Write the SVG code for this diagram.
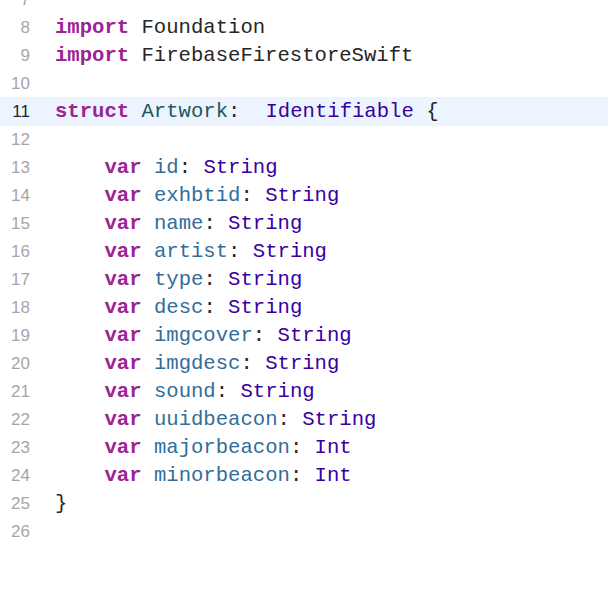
<svg xmlns="http://www.w3.org/2000/svg" width="608" height="616" viewBox="0 0 608 616">
<style>
.n{font-family:"Liberation Sans",sans-serif;font-size:17px;fill:#a6a6a6;text-anchor:end}
.c{font-family:"Liberation Mono","DejaVu Sans Mono",monospace;font-size:20.6px;fill:#262626}
.k{fill:#9b2393;font-weight:bold}.t{fill:#3900a0}.p{fill:#326d9a}.d{fill:#23575c}
</style>
<rect width="608" height="616" fill="#fff"/>
<rect x="0" y="97" width="608" height="29" fill="#ecf5ff"/>
<g class="n">
<text x="30" y="5">7</text>
<text x="30" y="33">8</text><text x="30" y="61">9</text><text x="30" y="89">10</text>
<text x="30" y="117" fill="#262626">11</text><text x="30" y="145">12</text><text x="30" y="173">13</text>
<text x="30" y="201">14</text><text x="30" y="229">15</text><text x="30" y="257">16</text>
<text x="30" y="285">17</text><text x="30" y="313">18</text><text x="30" y="341">19</text>
<text x="30" y="369">20</text><text x="30" y="397">21</text><text x="30" y="425">22</text>
<text x="30" y="453">23</text><text x="30" y="481">24</text><text x="30" y="509">25</text>
<text x="30" y="537">26</text>
</g>
<g class="c" xml:space="preserve">
<text x="55" y="33"><tspan class="k">import</tspan> Foundation</text>
<text x="55" y="61"><tspan class="k">import</tspan> FirebaseFirestoreSwift</text>
<text x="55" y="117"><tspan class="k">struct</tspan> <tspan class="d">Artwork</tspan>:<tspan class="t" x="265.5">Identifiable</tspan> {</text>
<text x="104.5" y="173"><tspan class="k">var</tspan> <tspan class="p">id</tspan>: <tspan class="t">String</tspan></text>
<text x="104.5" y="201"><tspan class="k">var</tspan> <tspan class="p">exhbtid</tspan>: <tspan class="t">String</tspan></text>
<text x="104.5" y="229"><tspan class="k">var</tspan> <tspan class="p">name</tspan>: <tspan class="t">String</tspan></text>
<text x="104.5" y="257"><tspan class="k">var</tspan> <tspan class="p">artist</tspan>: <tspan class="t">String</tspan></text>
<text x="104.5" y="285"><tspan class="k">var</tspan> <tspan class="p">type</tspan>: <tspan class="t">String</tspan></text>
<text x="104.5" y="313"><tspan class="k">var</tspan> <tspan class="p">desc</tspan>: <tspan class="t">String</tspan></text>
<text x="104.5" y="341"><tspan class="k">var</tspan> <tspan class="p">imgcover</tspan>: <tspan class="t">String</tspan></text>
<text x="104.5" y="369"><tspan class="k">var</tspan> <tspan class="p">imgdesc</tspan>: <tspan class="t">String</tspan></text>
<text x="104.5" y="397"><tspan class="k">var</tspan> <tspan class="p">sound</tspan>: <tspan class="t">String</tspan></text>
<text x="104.5" y="425"><tspan class="k">var</tspan> <tspan class="p">uuidbeacon</tspan>: <tspan class="t">String</tspan></text>
<text x="104.5" y="453"><tspan class="k">var</tspan> <tspan class="p">majorbeacon</tspan>: <tspan class="t">Int</tspan></text>
<text x="104.5" y="481"><tspan class="k">var</tspan> <tspan class="p">minorbeacon</tspan>: <tspan class="t">Int</tspan></text>
<text x="55" y="509">}</text>
</g>
</svg>
